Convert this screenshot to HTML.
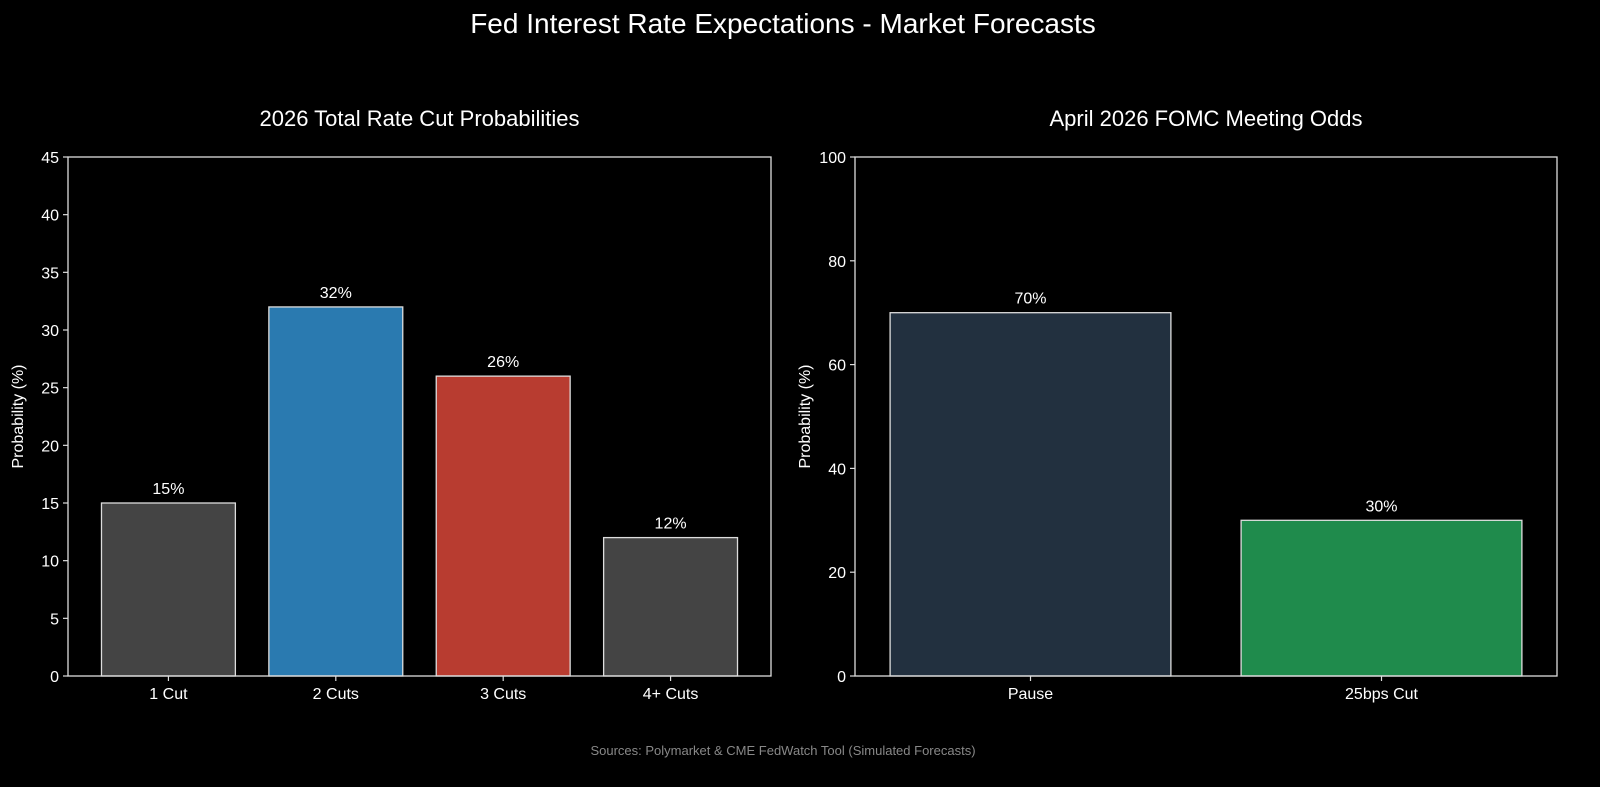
<!DOCTYPE html>
<html><head><meta charset="utf-8"><style>
html,body{margin:0;padding:0;background:#000;width:1600px;height:787px;overflow:hidden}
svg{display:block;font-family:"Liberation Sans",sans-serif}
</style></head><body>
<svg id="c" width="1600" height="787">
<text x="783" y="33" fill="#fff" font-size="28" text-anchor="middle">Fed Interest Rate Expectations - Market Forecasts</text>
<text x="783" y="755" fill="#888" font-size="13" text-anchor="middle">Sources: Polymarket &amp; CME FedWatch Tool (Simulated Forecasts)</text>
</svg>
<script>
const leftCats=["1 Cut","2 Cuts","3 Cuts","4+ Cuts"];
const leftVals=[15,32,26,12];
const leftColors=["#444444","#2a7ab0","#b83c30","#444444"];
const leftTicks=[0,5,10,15,20,25,30,35,40,45];
const rightCats=["Pause","25bps Cut"];
const rightVals=[70,30];
const rightColors=["#22303f","#1f8b4c"];
const rightTicks=[0,20,40,60,80,100];
const svg=document.getElementById('c');
const NS='http://www.w3.org/2000/svg';
function mk(tag,attrs,parent){const e=document.createElementNS(NS,tag);for(const k in attrs)e.setAttribute(k,attrs[k]);(parent||svg).appendChild(e);return e;}
function panel(p){
  const g=mk('g',{});
  
  
  const x0=p.x0,x1=p.x1,y0=157,y1=676;
  const n=p.cats.length;
  const unit=(x1-x0)/(n-1+2*p.pad);
  const xs=i=>x0+(i+p.pad)*unit;
  const ys=v=>y1-(v/p.max)*(y1-y0);
  const t=mk('text',{x:(x0+x1)/2,y:126,fill:'#fff','font-size':22,'text-anchor':'middle'},g);
  t.textContent=p.title;
  
  
  p.ticks.forEach(v=>{
    mk('line',{x1:x0-5,x2:x0,y1:ys(v),y2:ys(v),stroke:'#ddd','stroke-width':1.2},g);
    const tt=mk('text',{x:x0-9,y:ys(v)+6,fill:'#fff','font-size':16,'text-anchor':'end'},g);
    tt.textContent=v;
    
    
  });
  const yl=mk('text',{x:0,y:0,fill:'#fff','font-size':16,'text-anchor':'middle',transform:`translate(${x0-45},${(y0+y1)/2}) rotate(-90)`},g);
  yl.textContent='Probability (%)';
  
  
  p.cats.forEach((c,i)=>{
    const bw=0.8*unit,cx=xs(i),v=p.vals[i];
    const r=mk('rect',{x:cx-bw/2,y:ys(v),width:bw,height:ys(0)-ys(v),fill:p.colors[i],stroke:'#ddd','stroke-width':1.3},g);
    
    
    const vl=mk('text',{x:cx,y:ys(v)-9,fill:'#fff','font-size':16,'text-anchor':'middle'},g);
    vl.textContent=v+'%';
    
    
    mk('line',{x1:cx,x2:cx,y1:y1,y2:y1+5,stroke:'#ddd','stroke-width':1.2},g);
    const xl=mk('text',{x:cx,y:y1+23,fill:'#fff','font-size':16,'text-anchor':'middle'},g);
    xl.textContent=c;
    
    
  });
  const f=mk('rect',{x:x0,y:y0,width:x1-x0,height:y1-y0,fill:'none',stroke:'#ddd','stroke-width':1.3},g);
  
  
}
panel({name:'left-panel',title:'2026 Total Rate Cut Probabilities',cats:leftCats,vals:leftVals,colors:leftColors,ticks:leftTicks,max:45,x0:68,x1:771,pad:0.6});
panel({name:'right-panel',title:'April 2026 FOMC Meeting Odds',cats:rightCats,vals:rightVals,colors:rightColors,ticks:rightTicks,max:100,x0:855,x1:1557,pad:0.5});
</script>
</body></html>
